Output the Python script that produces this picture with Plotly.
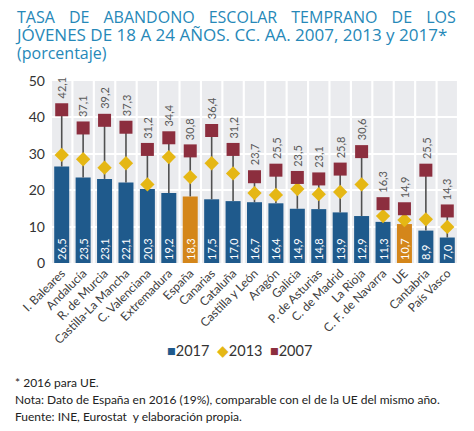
import plotly.graph_objects as go

# datos (porcentaje)
regiones = ["I. Baleares", "Andalucía", "R. de Murcia", "Castilla-La Mancha",
            "C. Valenciana", "Extremadura", "España", "Canarias", "Cataluña",
            "Castilla y León", "Aragón", "Galicia", "P. de Asturias",
            "C. de Madrid", "La Rioja", "C. F. de Navarra", "UE", "Cantabria",
            "País Vasco"]
v2017 = [26.5, 23.5, 23.1, 22.1, 20.3, 19.2, 18.3, 17.5, 17.0, 16.7, 16.4,
         14.9, 14.8, 13.9, 12.9, 11.3, 10.7, 8.9, 7.0]
v2013 = [29.7, 28.5, 26.2, 27.4, 21.6, 29.1, 23.6, 27.4, 24.6, 19.2, 18.7,
         20.3, 18.9, 19.5, 21.6, 12.9, 11.8, 12.0, 9.9]
v2007 = [42.1, 37.1, 39.2, 37.3, 31.2, 34.4, 30.8, 36.4, 31.2, 23.7, 25.5,
         23.5, 23.1, 25.8, 30.6, 16.3, 14.9, 25.5, 14.3]
destacados = ["España", "UE"]
y_ticks = [0, 10, 20, 30, 40, 50]

AZUL = "#1f5a8c"
NARANJA = "#d4861a"
AMARILLO = "#e5b714"
GRANATE = "#8c2e3e"
TITULO = "#2688b8"
FUENTE = "Lato"

# geometria del area de dibujo (px en la pagina); la pagina tiene 8px de margen
L, R, T, B = 47, 458, 81, 263
WIN_W, WIN_H, OFF = 474, 431, 8
W, H = WIN_W - OFF, WIN_H - OFF


def px(x):
    return (x - L) / (R - L)


def py(y):
    return (B - y) / (B - T)


def coma(v):
    return "{:.1f}".format(v).replace(".", ",")


fig = go.Figure()

# columnas grises de fondo
for i in range(len(regiones)):
    fig.add_shape(type="rect", xref="x", yref="y", x0=i - 0.45, x1=i + 0.45,
                  y0=0, y1=y_ticks[-1], fillcolor="#eaebee", line_width=0,
                  layer="below")

# linea vertical min-max
lx, ly = [], []
for r, a, b, c in zip(regiones, v2017, v2013, v2007):
    lx += [r, r, None]
    ly += [min(a, b, c), max(a, b, c), None]
fig.add_trace(go.Scatter(x=lx, y=ly, mode="lines", showlegend=False,
                         line=dict(color="#505050", width=1.6),
                         hoverinfo="skip"))

colores = [NARANJA if r in destacados else AZUL for r in regiones]
fig.add_trace(go.Bar(x=regiones, y=v2017, name="2017", width=0.7,
                     marker=dict(color=colores, line_width=0),
                     text=[coma(v) for v in v2017], textposition="inside",
                     insidetextanchor="start", textangle=-90,
                     constraintext="none",
                     textfont=dict(color="white", size=11, family=FUENTE)))
fig.add_trace(go.Scatter(x=regiones, y=v2013, name="2013", mode="markers",
                         marker=dict(symbol="diamond", size=11, color=AMARILLO)))
fig.add_trace(go.Scatter(x=regiones, y=v2007, name="2007", mode="markers",
                         marker=dict(symbol="square", size=13, color=GRANATE)))

# etiquetas 2007
for r, v in zip(regiones, v2007):
    fig.add_annotation(x=r, y=v, xref="x", yref="y", text=coma(v),
                       textangle=-90, showarrow=False, yanchor="bottom",
                       yshift=9, font=dict(size=11, color="#595959",
                                           family=FUENTE))

# leyenda compacta como texto
leyenda = [("2017", "■", AZUL), ("2013", "◆", AMARILLO), ("2007", "■", GRANATE)]
txt = "\u00a0 ".join("<span style='color:{}'>{}</span>{}".format(c, s, n)
                     for n, s, c in leyenda)
fig.add_annotation(xref="paper", yref="paper", x=px(237), y=py(350),
                   xanchor="center", yanchor="middle", text=txt,
                   showarrow=False,
                   font=dict(size=14.5, color="#333333", family=FUENTE))

# titulo: interlineado de 14px*1.3, letras mas grandes con span
sep = "\u00a0" * 3 + "\u200a"
linea1 = sep.join(["TASA", "DE", "ABANDONO", "ESCOLAR", "TEMPRANO", "DE", "LOS"])
lineas = [(linea1, 16),
          ("JÓVENES DE 18 A 24 AÑOS. CC. AA. 2007, 2013 y 2017*", 17),
          ("(porcentaje)", 16)]
titulo = "<br>".join("<span style='font-size:{}px'>{}</span>".format(s, t)
                     for t, s in lineas)
fig.add_annotation(xref="paper", yref="paper", x=px(9), y=py(4),
                   xanchor="left", yanchor="top", text=titulo, align="left",
                   showarrow=False,
                   font=dict(size=14, color=TITULO, family="Open Sans"))

# notas
notas = [("* 2016 para UE.", 382),
         ("Nota: Dato de España en 2016 (19%), comparable con el de la UE del mismo año.", 399),
         ("Fuente: INE, Eurostat  y elaboración propia.", 416)]
for t, y in notas:
    fig.add_annotation(xref="paper", yref="paper", x=px(9), y=py(y),
                       xanchor="left", yanchor="middle", text=t,
                       showarrow=False,
                       font=dict(size=12, color="#222222", family=FUENTE))

fig.update_layout(
    width=W, height=H,
    margin=dict(l=L - OFF, r=WIN_W - R, t=T - OFF, b=WIN_H - B, pad=0),
    paper_bgcolor="white", plot_bgcolor="white",
    separators=",.",
    font=dict(family=FUENTE, color="#333333"),
    showlegend=False,
)
fig.update_xaxes(tickangle=-45, tickfont=dict(size=12, color="#404040"),
                 showgrid=False, showline=False, ticks="",
                 range=[-0.5, len(regiones) - 0.5])
fig.update_yaxes(range=[0, y_ticks[-1]], tickvals=y_ticks,
                 tickfont=dict(size=14, color="#333333"),
                 showgrid=True, gridcolor="white", gridwidth=2,
                 zeroline=False, showline=False, ticks="", ticklabelstandoff=5)

fig.write_html("out.html")
